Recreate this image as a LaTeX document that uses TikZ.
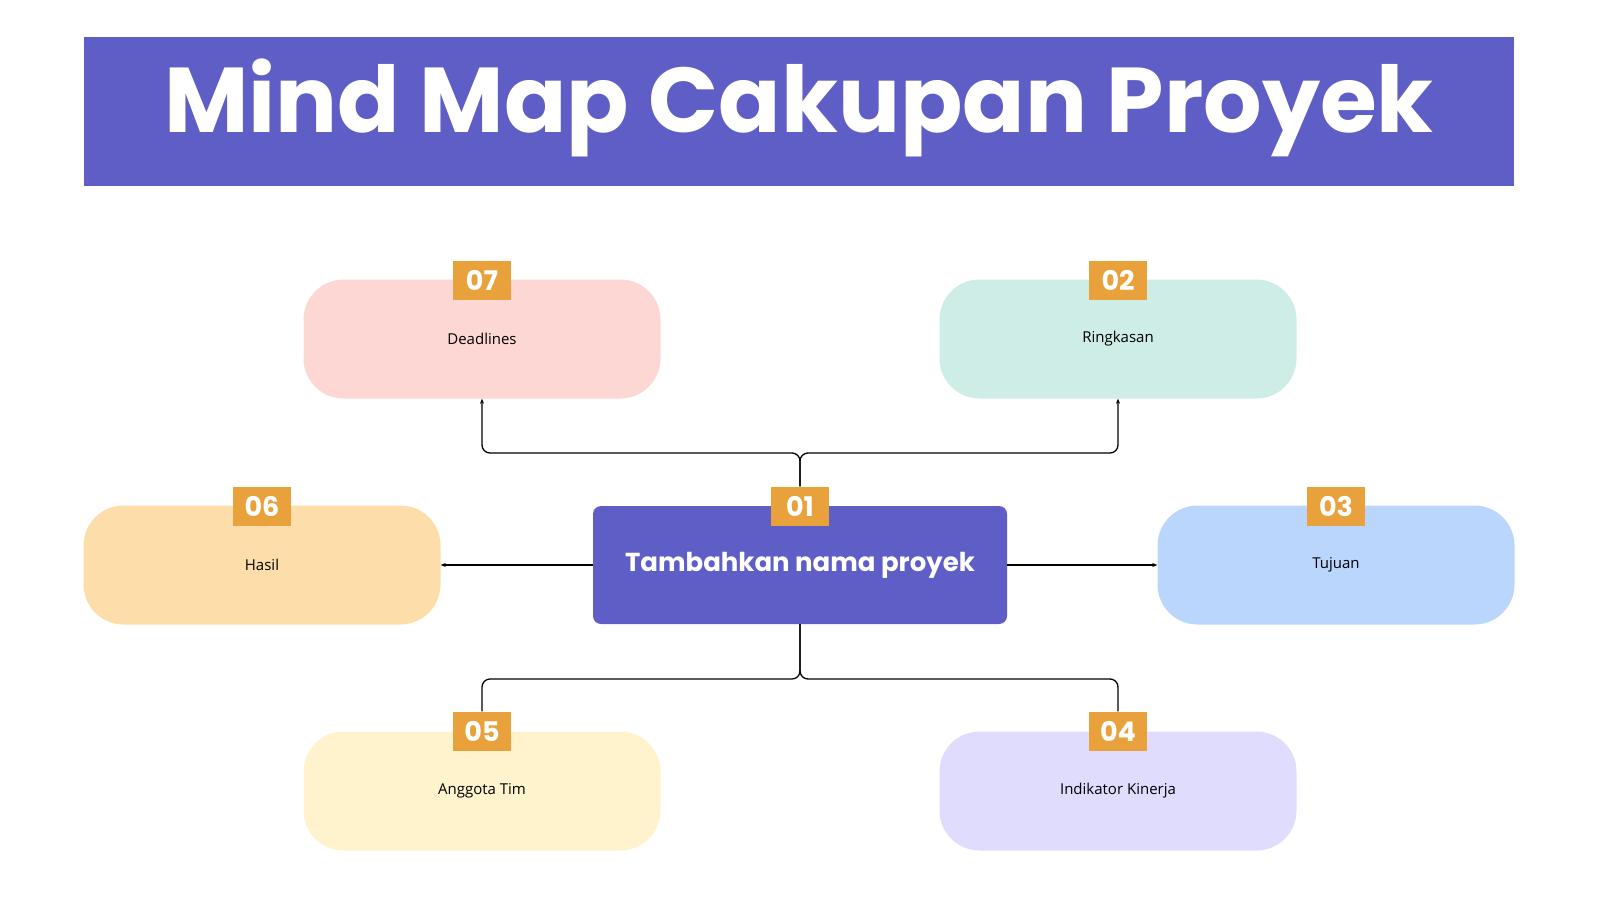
\documentclass[tikz,border=0pt]{standalone}
\usepackage{fontspec}
\setmainfont{Poppins}
\newfontfamily\lab{Open Sans}
\usetikzlibrary{arrows.meta}
\definecolor{pur}{HTML}{5F5DC6}
\definecolor{org}{HTML}{E9A23B}
\definecolor{cpink}{HTML}{FDD7D4}
\definecolor{cmint}{HTML}{CDEDE6}
\definecolor{cpeach}{HTML}{FDDEAA}
\definecolor{cblue}{HTML}{BBD6FC}
\definecolor{cyel}{HTML}{FFF3CE}
\definecolor{clav}{HTML}{E0DCFD}
\tikzset{
 x=1pt,y=-1pt,
 topic/.style={rounded corners=40pt,minimum width=357pt,minimum height=119pt,inner sep=0pt,font=\lab\fontsize{15}{18}\selectfont},
 badge/.style={fill=org,minimum width=58pt,minimum height=39pt,inner sep=0pt,text=white,font=\bfseries\fontsize{27}{30}\selectfont},
 conn/.style={line width=1.3pt,rounded corners=8pt},
 tip/.style={-{Stealth[length=5pt,width=4pt]}}
}
\begin{document}
\begin{tikzpicture}
\useasboundingbox (0,0) rectangle (1600,900);
\fill[pur] (84,37) rectangle (1514,186);
\node[text=white,font=\bfseries\fontsize{92}{100}\selectfont] (title) at (799,108) {Mind Map Cakupan Proyek};
\node[fill=pur,rounded corners=8pt,minimum width=414pt,minimum height=118pt,text=white,font=\bfseries\fontsize{26}{30}\selectfont] (c) at (800,565) {Tambahkan nama proyek};
\node[topic,fill=cpink] (t7) at (482,339) {Deadlines};
\node[topic,fill=cmint] (t2) at (1118,339) {Ringkasan};
\node[topic,fill=cpeach] (t6) at (262,565) {Hasil};
\node[topic,fill=cblue] (t3) at (1336,565) {Tujuan};
\node[topic,fill=cyel] (t5) at (482,791) {Anggota Tim};
\node[topic,fill=clav] (t4) at (1118,791) {Indikator Kinerja};
\node[badge] (b1) at (800,506) {01};
\node[badge] (b7) at (482,280) {07};
\node[badge] (b2) at (1118,280) {02};
\node[badge] (b6) at (262,506) {06};
\node[badge] (b3) at (1336,506) {03};
\node[badge] (b5) at (482,731) {05};
\node[badge] (b4) at (1118,731) {04};
\draw[conn,tip] (b1.north) |- (482,453) -- (t7.south);
\draw[conn,tip] (b1.north) |- (1118,453) -- (t2.south);
\draw[conn] (c.south) |- (482,679) -- (b5.north);
\draw[conn] (c.south) |- (1118,679) -- (b4.north);
\draw[conn,tip] (c.west) -- (t6.east);
\draw[conn,tip] (c.east) -- (t3.west);
\end{tikzpicture}
\end{document}
